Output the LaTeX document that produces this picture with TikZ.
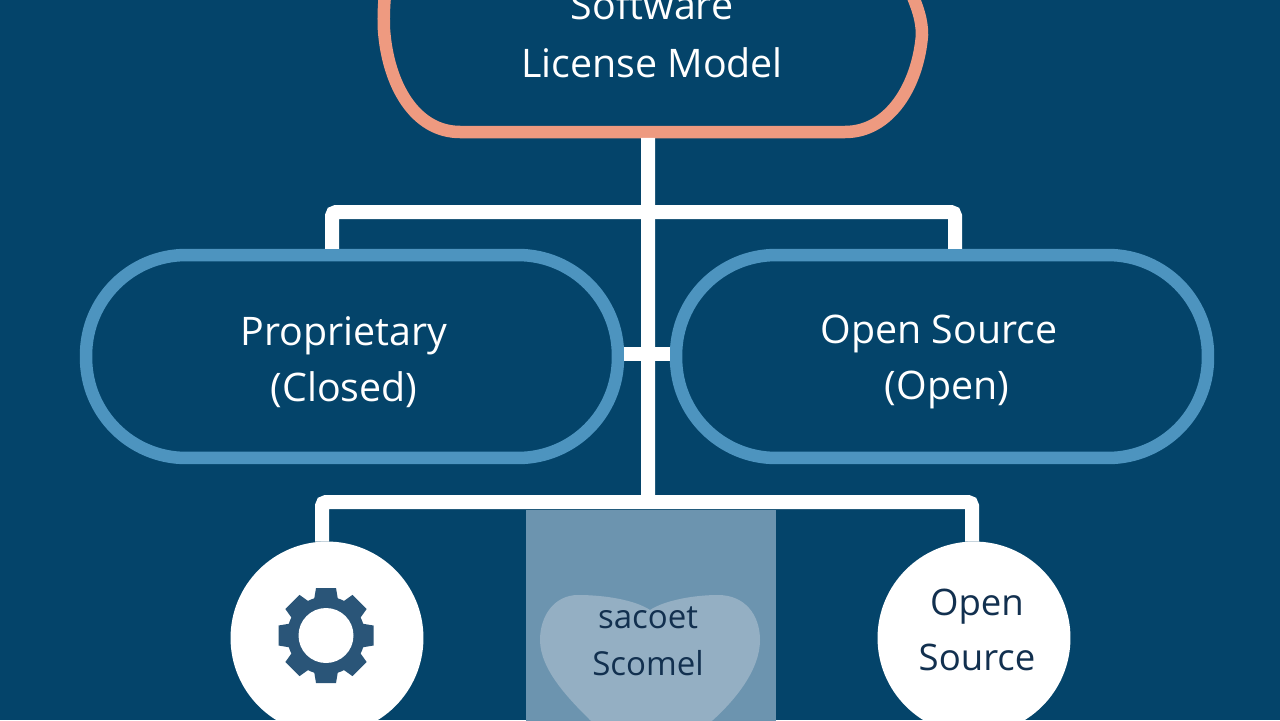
\documentclass[tikz,border=0pt]{standalone}
\usepackage{fontspec}
\setmainfont{Open Sans}
\definecolor{backdrop}{HTML}{04446A}
\definecolor{salmon}{HTML}{EE9A80}
\definecolor{pillblue}{HTML}{4D94BF}
\definecolor{panel}{HTML}{6C94AF}
\definecolor{heartfill}{HTML}{94AFC3}
\definecolor{darkink}{HTML}{12304F}
\definecolor{gearink}{HTML}{2A5578}
\newcommand{\texttop}{Software\\ License Model}
\newcommand{\textleft}{Proprietary\\ (Closed)}
\newcommand{\textright}{Open Source\\ \hspace*{9pt}(Open)}
\newcommand{\textcirc}{Open\\ Source}
\newcommand{\textheart}{sacoet\\ Scomel}

\begin{document}
\begin{tikzpicture}[
    x=0.02cm,y=-0.02cm,
    any/.style={align=center,outer sep=0pt,inner sep=0pt,font=\fontsize{22.4}{31.5}\selectfont},
    pill/.style={draw=pillblue,line width=0.25cm,rounded corners=2cm,outer sep=0.125cm,%
                 minimum width=10.64cm,minimum height=4.06cm},
    round/.style={any,circle,fill=white,minimum size=3.86cm},
    wire/.style={draw=white,line width=0.28cm,rounded corners=0.08cm}
]
\useasboundingbox (0,0) rectangle (1280,720);
\clip (0,0) rectangle (1280,720);
\fill[backdrop] (0,0) rectangle (1280,720);

% top node, its outline runs off the page
\draw[salmon,line width=0.25cm] (388,-30) .. controls (385,-10) and (383,10) .. (384,30)
    .. controls (388,85) and (415,132) .. (460,132) -- (845,132)
    .. controls (890,132) and (918,85) .. (922,35)
    .. controls (922,20) and (918,8) .. (908,-15);
\node[any,text=white,minimum width=10.96cm,minimum height=4.16cm,%
      font=\fontsize{22.4}{33}\selectfont] (license) at (652,34) {\texttop};

% middle row
\node[pill] (closed) at (352,356.5) {};
\node[pill] (opened) at (942,356.5) {};
\node[any,text=white] (closedtext) at (344,362) {\textleft};
\node[any,text=white] (openedtext) at (939,362) {\textright};

% bottom row
\node[any,fill=panel,minimum width=5cm,minimum height=4.6cm] (panel) at (651,625) {};
\fill[heartfill] (650,610) .. controls (635,600) and (605,595) .. (578,595)
    .. controls (555,595) and (540,615) .. (540,640)
    .. controls (540,670) and (570,700) .. (590,720) -- (650,775) -- (713,720)
    .. controls (735,700) and (760,670) .. (760,640)
    .. controls (760,615) and (745,595) .. (718,595)
    .. controls (695,595) and (665,600) .. (650,610) -- cycle;
\node[any,text=darkink,font=\fontsize{18.8}{26.8}\selectfont] (scomel) at (648,641) {\textheart};
\node[round] (gear) at (327,638) {};
\node[round] (source) at (974,638) {};
\node[any,text=darkink,font=\fontsize{20.8}{31.5}\selectfont] (sourcetext) at (977,630) {\textcirc};

% gear icon
\foreach \a in {0,45,...,315}
    \fill[gearink,rotate around={\a:(326,635.5)}] (312,612) -- (316,588) -- (336,588) -- (340,612) -- cycle;
\fill[gearink] (326,635.5) circle (0.78cm);
\fill[white] (326,635.5) circle (0.55cm);

% connectors
\coordinate (hubtop) at (648,212);
\coordinate (hubbot) at (648,502);
\draw[wire] ([xshift=-0.08cm]license.south) -- (hubbot);
\draw[wire] ([xshift=-0.4cm]closed.north) |- (hubtop) -| ([xshift=0.26cm]opened.north);
\draw[wire] ([xshift=-0.1cm]gear.north) |- (hubbot) -| ([xshift=-0.04cm]source.north);
\draw[wire] ([yshift=0.05cm]closed.east) -- ([yshift=0.05cm]opened.west);
\end{tikzpicture}
\end{document}
